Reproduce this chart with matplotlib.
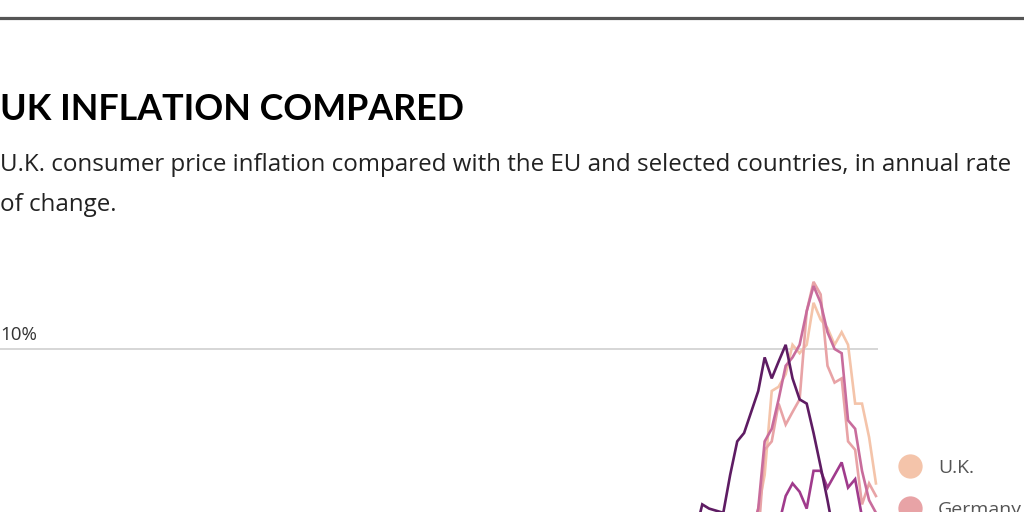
import matplotlib
matplotlib.use("Agg")
import matplotlib.pyplot as plt
from matplotlib.lines import Line2D
import pandas as pd

# monthly annual-rate inflation, Jan 2021 - Jul 2023 (%)
months = pd.date_range("2021-01-01", "2023-07-01", freq="MS")
uk = [0.7, 0.4, 0.7, 1.5, 2.1, 2.5, 2.0, 3.2, 3.1, 4.2, 5.1, 5.4,
      5.5, 6.2, 7.0, 9.0, 9.1, 9.4, 10.1, 9.9, 10.1, 11.1, 10.7, 10.5,
      10.1, 10.4, 10.1, 8.7, 8.7, 7.9, 6.8]
germany = [1.6, 1.6, 2.0, 2.1, 2.4, 2.1, 3.1, 3.4, 4.1, 4.6, 6.0, 5.7,
           5.1, 5.5, 7.6, 7.8, 8.7, 8.2, 8.5, 8.8, 10.9, 11.6, 11.3, 9.6,
           9.2, 9.3, 7.8, 7.6, 6.3, 6.8, 6.5]
eu = [1.2, 1.3, 1.7, 2.1, 2.3, 2.2, 2.5, 3.2, 3.6, 4.4, 5.2, 5.3,
      5.6, 6.2, 7.8, 8.1, 8.8, 9.6, 9.8, 10.1, 10.9, 11.5, 11.1, 10.4,
      10.0, 9.9, 8.3, 8.1, 7.1, 6.4, 6.1]
france = [0.8, 0.8, 1.4, 1.6, 1.8, 1.9, 1.5, 2.4, 2.7, 3.2, 3.4, 3.4,
          3.3, 4.2, 5.1, 5.4, 5.8, 6.5, 6.8, 6.6, 6.2, 7.1, 7.1, 6.7,
          7.0, 7.3, 6.7, 6.9, 6.0, 5.3, 5.1]
us = [2.5, 2.7, 3.6, 4.9, 5.6, 6.3, 6.2, 6.15, 6.1, 7.0, 7.8, 8.0,
      8.5, 9.0, 9.8, 9.3, 9.7, 10.1, 9.3, 8.8, 8.7, 8.0, 7.2, 6.4,
      5.5, 5.2, 4.3, 4.2, 3.4, 2.5, 2.7]

names = ["U.K.", "Germany", "EU", "France", "U.S."]
series = [uk, germany, eu, france, us]
colors = ["#F4C4AA", "#E8A3A6", "#C86C9C", "#A03B8C", "#5E1C63"]

plt.rcParams["font.family"] = ["Lato", "DejaVu Sans"]
SANS = ["Open Sans", "DejaVu Sans"]

W, H = 1024, 512
fig = plt.figure(figsize=(W / 100, H / 100), dpi=100)

# plot area: runs below the bottom edge (zero line at y=769px)
y0_px, px_per_pct, ymax = 769, 42, 14
bottom = (H - y0_px) / H
top = (H - (y0_px - px_per_pct * ymax)) / H
ax = fig.add_axes([0, bottom, 878 / W, top - bottom])
ax.set_ylim(0, ymax)
ax.set_xlim(pd.Timestamp("2013-01-01"), pd.Timestamp("2023-07-10"))
ax.axis("off")

for v in [0, 5, 10]:
    ax.axhline(v, color="#cccccc", lw=1.1, zorder=1)
ax.annotate("10%", (0, 10), xycoords=("axes fraction", "data"),
            xytext=(0, 3.5), textcoords="offset points", ha="left", va="bottom",
            fontsize=13.5, color="#333333", family=SANS)

for vals, c in zip(series, colors):
    ax.plot(months, vals, color=c, lw=1.9, solid_joinstyle="miter", zorder=2)

# legend
for i, (n, c) in enumerate(zip(names, colors)):
    yy = 1 - (466 + 42 * i) / H
    fig.add_artist(Line2D([910 / W], [yy], marker="o", ms=17.5, color=c,
                          mec="none", transform=fig.transFigure))
    fig.text(938 / W, yy, n, fontsize=14, color="#555555", va="center_baseline",
             ha="left", family=SANS)

# header
fig.add_artist(Line2D([0, 1], [1 - 18 / H] * 2, color="#555555", lw=2.3,
                      transform=fig.transFigure))
fig.text(0, 1 - 120 / H, "UK INFLATION COMPARED", fontsize=25.8,
         fontweight="bold", color="black", va="baseline", ha="left")
fig.text(0, 1 - 171 / H,
         "U.K. consumer price inflation compared with the EU and selected countries, in annual rate",
         fontsize=17.4, color="#222222", va="baseline", ha="left", family=SANS)
fig.text(0, 1 - 211 / H, "of change.", fontsize=17.4, color="#222222",
         va="baseline", ha="left", family=SANS)

fig.savefig("out.png", dpi=100)
